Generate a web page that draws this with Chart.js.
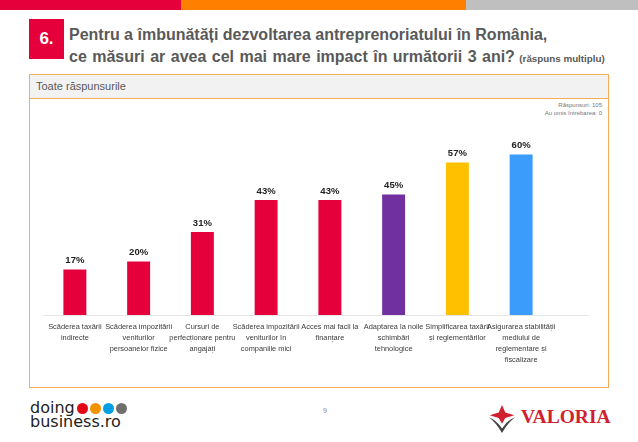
<!DOCTYPE html>
<html>
<head>
<meta charset="utf-8">
<script src="https://cdn.jsdelivr.net/npm/chart.js@4"></script>
<style>
  html, body { margin: 0; padding: 0; background: #fff; }
  body { width: 638px; height: 442px; position: relative; overflow: hidden; font-family: "Liberation Sans", Arial, sans-serif; }
  .stripe { position: absolute; top: 0; height: 10px; }
  .num { position: absolute; left: 29px; top: 19px; width: 35px; height: 40px; background: #e5003c; color: #fff;
         font-weight: bold; font-size: 17px; line-height: 40px; text-align: center; }
  .title { position: absolute; left: 69px; top: 24px; color: #595959; font-weight: bold; font-size: 16px; line-height: 22px; white-space: nowrap; }
  .title .l2 { word-spacing: 1px; }
  .title small { font-size: 9.8px; }
  .panel { position: absolute; left: 29px; top: 74px; width: 578px; height: 312px; border: 1px solid #f7ab5a; }
  .head { height: 23px; background: #f2f2f2; border-bottom: 1px solid #f7ab5a; color: #595959; font-size: 11px; line-height: 23px; padding-left: 6px; }
  .meta { position: absolute; right: 6px; top: 26px; text-align: right; font-size: 6px; line-height: 8px; color: #777; }
  #wrap { position: absolute; left: 29px; top: 98px; width: 579px; height: 289px; }
  .page { position: absolute; left: 323px; top: 407px; font-size: 7px; color: #888; }
  .db { position: absolute; left: 30px; top: 401px; font-family: "DejaVu Sans", sans-serif; font-size: 16px; line-height: 14px; color: #222; }
  .dot { display: inline-block; width: 11px; height: 11px; border-radius: 50%; margin-right: 2px; vertical-align: -1px; }
  .val { position: absolute; left: 487px; top: 404px; height: 30px; }
  .val span { position: absolute; left: 34px; top: 2px; font-family: "Liberation Serif", serif; font-weight: bold; font-size: 19.5px; color: #d21f30; }
</style>
</head>
<body>
<div class="stripe" style="left:0;width:181px;background:#e5003c"></div>
<div class="stripe" style="left:181px;width:285px;background:#ff8000"></div>
<div class="stripe" style="left:466px;width:172px;background:#bfbfbf"></div>

<div class="num">6.</div>
<div class="title">Pentru a îmbunătăți dezvoltarea antreprenoriatului în România,<br><span class="l2">ce măsuri ar avea cel mai mare impact în următorii 3 ani?</span> <small>(răspuns multiplu)</small></div>

<div class="panel">
  <div class="head">Toate răspunsurile</div>
  <div class="meta">Răspunsuri: 105<br>Au omis întrebarea: 0</div>
</div>
<div id="wrap"><canvas id="chart" width="579" height="289"></canvas></div>

<div class="page">9</div>
<div class="db">doing<span class="dot" style="background:#e30613;margin-left:2px"></span><span class="dot" style="background:#f39200"></span><span class="dot" style="background:#009fe3"></span><span class="dot" style="background:#6f6f6e"></span><br>business.ro</div>
<div class="val">
  <svg width="30" height="30" viewBox="0 0 32 30">
    <path d="M16 0 L19.5 8 L29 11 L19.5 14 L16 20 L12.5 14 L3 11 L12.5 8 Z" fill="#d21f30"/>
    <path d="M2 13 Q10 19 16 30 Q22 19 30 13 Q22 16 16 25 Q10 16 2 13 Z" fill="#444"/>
  </svg>
  <span>VALORIA</span>
</div>

<script>
const categories = [
  ["Scăderea taxării", "indirecte"],
  ["Scăderea impozitării", "veniturilor", "persoanelor fizice"],
  ["Cursuri de", "perfecționare pentru", "angajați"],
  ["Scăderea impozitării", "veniturilor în", "companiile mici"],
  ["Acces mai facil la", "finanțare"],
  ["Adaptarea la noile", "schimbări", "tehnologice"],
  ["Simplificarea taxării", "și reglementărilor"],
  ["Asigurarea stabilității", "mediului de", "reglementare și", "fiscalizare"]
];
const values = [17, 20, 31, 43, 43, 45, 57, 60];
const barColors = ["#e5003c", "#e5003c", "#e5003c", "#e5003c", "#e5003c", "#7030a0", "#ffc000", "#3c9cfc"];

const valueLabels = {
  id: 'valueLabels',
  afterDatasetsDraw(chart) {
    const ctx = chart.ctx;
    const meta = chart.getDatasetMeta(0);
    ctx.save();
    ctx.font = 'bold 9.5px "Liberation Sans", Arial, sans-serif';
    ctx.fillStyle = '#222';
    ctx.textAlign = 'center';
    ctx.textBaseline = 'bottom';
    meta.data.forEach((bar, i) => {
      ctx.fillText(values[i] + '%', bar.x, bar.y - 4);
    });
    ctx.restore();
  }
};

// light baseline, a bit longer than the plot area like in the slide
const baseLine = {
  id: 'baseLine',
  beforeDatasetsDraw(chart) {
    const a = chart.chartArea;
    const ctx = chart.ctx;
    ctx.save();
    ctx.strokeStyle = '#e6e6e6';
    ctx.lineWidth = 1;
    ctx.beginPath();
    ctx.moveTo(a.left, a.bottom + 0.5);
    ctx.lineTo(a.right + 36, a.bottom + 0.5);
    ctx.stroke();
    ctx.restore();
  }
};

new Chart(document.getElementById('chart'), {
  type: 'bar',
  data: {
    labels: categories,
    datasets: [{
      data: values,
      backgroundColor: barColors,
      barPercentage: 0.72,
      categoryPercentage: 0.5
    }]
  },
  options: {
    responsive: false,
    animation: false,
    devicePixelRatio: 1,
    layout: { padding: { left: 14, right: 55, top: 43, bottom: 0 } },
    plugins: { legend: { display: false }, tooltip: { enabled: false } },
    scales: {
      x: {
        grid: { display: false, drawTicks: false },
        border: { display: false },
        afterFit(s) { s.height = 72; },
        ticks: {
          maxRotation: 0,
          autoSkip: false,
          padding: 6,
          color: '#3a3a3a',
          font: { family: '"Liberation Sans", Arial, sans-serif', size: 7.4, lineHeight: '11px' }
        }
      },
      y: {
        display: false,
        min: 0,
        max: 65
      }
    }
  },
  plugins: [valueLabels, baseLine]
});
</script>
</body>
</html>
